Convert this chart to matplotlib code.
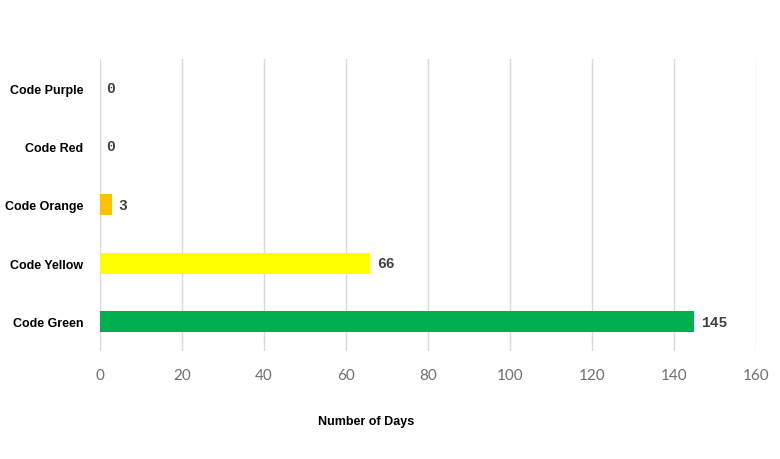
import matplotlib
matplotlib.use("Agg")
import matplotlib.pyplot as plt

categories = ["Code Green", "Code Yellow", "Code Orange", "Code Red", "Code Purple"]
days = [145, 66, 3, 0, 0]
colors = ["#00B050", "#FFFF00", "#FFC000", "#FF0000", "#7030A0"]
xticks = [0, 20, 40, 60, 80, 100, 120, 140, 160]

fig = plt.figure(figsize=(7.8, 4.6), dpi=100)
ax = fig.add_axes([0.128, 0.235, 0.841, 0.635])

ypos = range(len(categories))
ax.barh(ypos, days, height=0.36, color=colors, zorder=3)
for y, v in zip(ypos, days):
    ax.text(v + 1.6, y, str(v), va="center", ha="left", fontsize=10.5,
            family="Liberation Mono", fontweight="bold", color="#404040")

ax.set_xlim(0, 160)
ax.set_ylim(-0.5, len(categories) - 0.5)
ax.set_xticks(xticks)
ax.set_yticks(list(ypos))
ax.set_yticklabels(categories, fontsize=9, fontweight="bold", family="Liberation Sans")
ax.tick_params(axis="y", length=0, pad=12)
ax.tick_params(axis="x", length=0, pad=12, labelsize=11, labelcolor="#6f6f6f")
for lab in ax.get_xticklabels():
    lab.set_family("Lato")
ax.grid(axis="x", color="#d9d9d9", linewidth=1, zorder=0)
for s in ax.spines.values():
    s.set_visible(False)

fig.text(366 / 780, 1 - 422 / 460, "Number of Days", ha="center", va="center",
         fontsize=9, fontweight="bold", family="Liberation Sans")

fig.savefig("out.png", dpi=100)
